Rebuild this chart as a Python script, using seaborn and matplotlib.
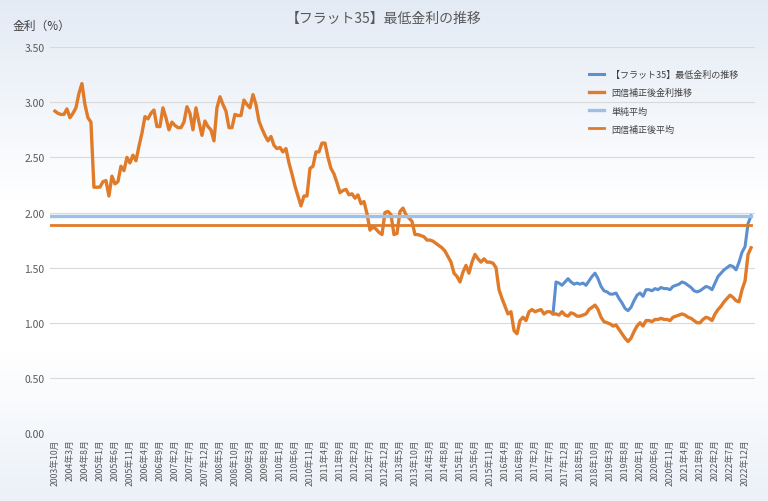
import numpy as np
import pandas as pd
import matplotlib
matplotlib.use("Agg")
import matplotlib.pyplot as plt
import seaborn as sns

plt.rcParams["font.family"] = "Noto Sans CJK JP"

# monthly data, 2003-10 onward
months = pd.date_range("2003-10-01", periods=233, freq="MS")

adjusted_rate = [
    2.92, 2.90, 2.89, 2.89, 2.94, 2.86, 2.90, 2.95, 3.08, 3.17,
    2.98, 2.86, 2.82, 2.23, 2.23, 2.23, 2.28, 2.29, 2.15, 2.33,
    2.26, 2.28, 2.42, 2.38, 2.50, 2.45, 2.52, 2.47, 2.60, 2.72,
    2.87, 2.85, 2.90, 2.93, 2.78, 2.78, 2.95, 2.86, 2.75, 2.82,
    2.79, 2.77, 2.77, 2.82, 2.96, 2.90, 2.75, 2.95, 2.82, 2.70,
    2.83, 2.78, 2.75, 2.65, 2.95, 3.05, 2.98, 2.92, 2.77, 2.77,
    2.89, 2.88, 2.88, 3.02, 2.98, 2.95, 3.07, 2.98, 2.83, 2.76,
    2.70, 2.65, 2.69, 2.61, 2.58, 2.59, 2.55, 2.58, 2.45, 2.35,
    2.24, 2.15, 2.06, 2.15, 2.15, 2.40, 2.42, 2.55, 2.55, 2.63,
    2.63, 2.50, 2.40, 2.35, 2.27, 2.18, 2.20, 2.21, 2.16, 2.17,
    2.13, 2.16, 2.08, 2.10, 1.99, 1.84, 1.87, 1.85, 1.82, 1.80,
    2.00, 2.01, 1.98, 1.80, 1.81, 2.01, 2.04, 1.98, 1.95, 1.92,
    1.80, 1.80, 1.79, 1.78, 1.75, 1.75, 1.74, 1.72, 1.70, 1.68,
    1.65, 1.60, 1.55, 1.45, 1.42, 1.37, 1.46, 1.52, 1.45, 1.55,
    1.62, 1.58, 1.55, 1.58, 1.55, 1.55, 1.54, 1.50, 1.30, 1.22,
    1.15, 1.08, 1.10, 0.93, 0.90, 1.02, 1.05, 1.02, 1.10, 1.12,
    1.10, 1.11, 1.12, 1.08, 1.10, 1.10, 1.08, 1.08, 1.07, 1.10,
    1.07, 1.06, 1.09, 1.08, 1.06, 1.06, 1.07, 1.08, 1.12, 1.14,
    1.16, 1.12, 1.05, 1.01, 1.00, 0.99, 0.97, 0.98, 0.94, 0.90,
    0.86, 0.83, 0.86, 0.92, 0.97, 1.00, 0.97, 1.02, 1.02, 1.01,
    1.03, 1.03, 1.04, 1.03, 1.03, 1.02, 1.05, 1.06, 1.07, 1.08,
    1.07, 1.05, 1.04, 1.02, 1.00, 1.00, 1.03, 1.05, 1.04, 1.02,
    1.08, 1.12, 1.15, 1.19, 1.22, 1.25, 1.23, 1.20, 1.19, 1.30,
    1.38, 1.62, 1.68,
]

# lowest rate series starts in 2017
lowest_start = 166
lowest_rate = [
    1.08, 1.37, 1.36, 1.34,
    1.37, 1.40, 1.37, 1.35, 1.36, 1.35, 1.36, 1.34, 1.38, 1.42,
    1.45, 1.40, 1.33, 1.29, 1.28, 1.26, 1.26, 1.27, 1.22, 1.18,
    1.13, 1.11, 1.14, 1.20, 1.25, 1.27, 1.24, 1.30, 1.30, 1.29,
    1.31, 1.30, 1.32, 1.31, 1.31, 1.30, 1.33, 1.34, 1.35, 1.37,
    1.36, 1.34, 1.32, 1.29, 1.28, 1.29, 1.31, 1.33, 1.32, 1.30,
    1.36, 1.42, 1.45, 1.48, 1.50, 1.52, 1.51, 1.48, 1.55, 1.64,
    1.69, 1.90, 1.97,
]

simple_avg = 1.97
adjusted_avg = 1.89

labels = [f"{d.year}年{d.month}月" for d in months]
tick_idx = list(range(0, 231, 5))

BLUE = "#5b8fd0"
LIGHT_BLUE = "#9dc0e6"
ORANGE = "#e07b2a"

fig = plt.figure(figsize=(7.68, 5.02), dpi=100)
# background gradient
bg = fig.add_axes([0, 0, 1, 1], zorder=-10)
grad = np.concatenate([np.linspace(0, 1, 200), np.ones(150), np.linspace(1, 0.3, 150)])
top = np.array([0.89, 0.92, 0.96])
bgimg = top[None, :] * (1 - grad[:, None]) + np.array([1, 1, 1])[None, :] * grad[:, None]
bg.imshow(bgimg[:, None, :], aspect="auto", extent=[0, 1, 0, 1])
bg.axis("off")

ax = fig.add_axes([0.065, 0.1355, 0.918, 0.7685])
ax.patch.set_alpha(0)

x_all = np.arange(len(adjusted_rate))
x_low = np.arange(lowest_start, lowest_start + len(lowest_rate))

sns.lineplot(x=x_low, y=lowest_rate, ax=ax, color=BLUE, lw=2.2, label="【フラット35】最低金利の推移")
sns.lineplot(x=x_all, y=adjusted_rate, ax=ax, color=ORANGE, lw=2.4, label="団信補正後金利推移")
ax.plot([-1.5, 232], [simple_avg] * 2, color=LIGHT_BLUE, lw=2.4, label="単純平均")
ax.plot([-1.5, 232], [adjusted_avg] * 2, color=ORANGE, lw=2.0, label="団信補正後平均")

ax.set_xlim(-1.67, 233.3)
ax.set_ylim(0, 3.5)
ax.set_yticks(np.arange(0, 3.51, 0.5))
ax.set_yticklabels([f"{v:.2f}" for v in np.arange(0, 3.51, 0.5)], fontsize=7.5, color="#595959")
ax.set_xticks(tick_idx)
ax.set_xticklabels([labels[i] for i in tick_idx], rotation=90, fontsize=6.3, color="#595959")
ax.tick_params(length=0, pad=4)
ax.grid(axis="y", color="#d9d9d9", lw=0.8)
ax.set_axisbelow(True)
for s in ax.spines.values():
    s.set_visible(False)

leg = ax.legend(loc="upper left", bbox_to_anchor=(0.76, 0.95), frameon=False,
                fontsize=6.5, handlelength=1.6, labelspacing=1.0, borderaxespad=0)
for t in leg.get_texts():
    t.set_color("#404040")

fig.text(0.5, 0.962, "【フラット35】最低金利の推移", ha="center", va="center", fontsize=10, color="#595959")
fig.text(0.016, 0.948, "金利（%）", ha="left", va="center", fontsize=8.5, color="#404040")

fig.savefig("out.png", dpi=100)
